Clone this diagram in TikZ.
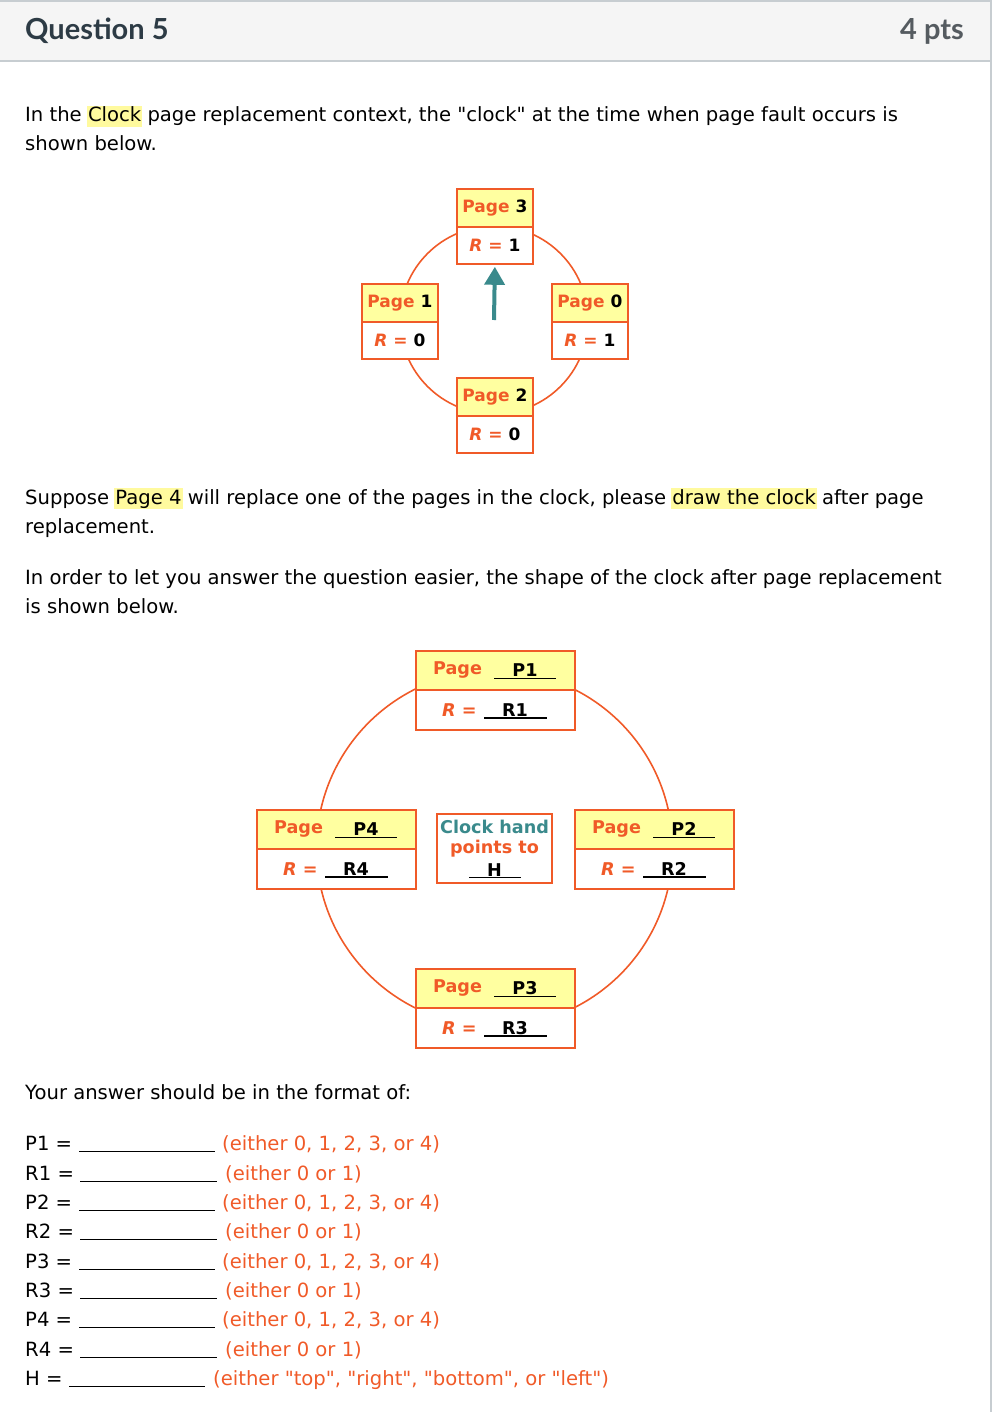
\documentclass[tikz,border=0pt]{standalone}
\usepackage{fontspec}
\setmainfont{DejaVu Sans}[Ligatures=TeXOff]
\newfontfamily\hdrfont{Lato}
\usetikzlibrary{arrows.meta}
\definecolor{org}{HTML}{F05A28}
\definecolor{yel}{HTML}{FFFFA0}
\definecolor{hlc}{HTML}{FFFA9E}
\definecolor{tealc}{HTML}{3A8A8C}
\definecolor{hdrbg}{HTML}{F5F5F5}
\definecolor{hdrln}{HTML}{C7CDD1}
\definecolor{hdrtx}{HTML}{2D3B45}
\definecolor{ptstx}{HTML}{555B60}
\newcommand\hlw[1]{\kern-1pt\relax{\fboxsep=1pt\colorbox{hlc}{\vphantom{Clg}#1}}\kern-1pt\relax}
\tikzset{
  body/.style={anchor=base west, inner sep=0pt, font=\fontsize{19.6}{23}\selectfont},
  note/.style={body, text=org},
  smtop/.style={draw=org, fill=yel, line width=1.8pt, minimum width=76pt, minimum height=38pt, inner sep=0pt, anchor=north west, font=\fontsize{17}{20}\selectfont\bfseries},
  smbot/.style={smtop, fill=white, minimum height=37pt},
  bgtop/.style={draw=org, fill=yel, line width=1.8pt, minimum width=159pt, minimum height=39pt, inner sep=0pt, anchor=north west},
  bgbot/.style={bgtop, fill=white, minimum height=40pt},
  lbl/.style={inner sep=0pt, text=org, font=\fontsize{17.6}{20}\selectfont\bfseries},
  val/.style={inner sep=0pt, text=black, font=\fontsize{17.6}{20}\selectfont\bfseries},
  uline/.style={line width=1.2pt, black},
  ring/.style={draw=org, line width=1.6pt},
  blank/.style={line width=1pt, black}
}
\begin{document}
\begin{tikzpicture}[x=1pt,y=-1pt]
\useasboundingbox (0,0) rectangle (994,1412);
% header
\fill[hdrbg] (0,1) rectangle (991,61);
\draw[hdrln, line width=1.2pt] (0,1) -- (991,1);
\draw[hdrln, line width=1.2pt] (0,61) -- (991,61);
\draw[hdrln, line width=1.2pt] (991,0) -- (991,1412);
\node[anchor=base west, inner sep=0pt, text=hdrtx, font=\hdrfont\fontsize{29}{32}\selectfont\bfseries] (qt) at (25,40) {Question 5};
\node[anchor=base east, inner sep=0pt, text=ptstx, font=\hdrfont\fontsize{29}{32}\selectfont\bfseries] (pts) at (964,40) {4 pts};
% intro text
\node[body] (t1) at (25,122) {In the \hlw{Clock} page replacement context, the "clock" at the time when page fault occurs is};
\node[body] (t2) at (25,151) {shown below.};
% first clock
\coordinate (c1) at (494,320);
\draw[ring] (c1) circle[radius=94pt];
\node[smtop] (a3t) at (456,188) {{\color{org}Page} 3};
\node[smbot] (a3b) at (456,226) {{\color{org}\itshape R} {\color{org}=} 1};
\node[smtop] (a1t) at (361,283) {{\color{org}Page} 1};
\node[smbot] (a1b) at (361,321) {{\color{org}\itshape R} {\color{org}=} 0};
\node[smtop] (a0t) at (551,283) {{\color{org}Page} 0};
\node[smbot] (a0b) at (551,321) {{\color{org}\itshape R} {\color{org}=} 1};
\node[smtop] (a2t) at (456,377) {{\color{org}Page} 2};
\node[smbot] (a2b) at (456,415) {{\color{org}\itshape R} {\color{org}=} 0};
\draw[tealc, line width=4pt, -{Triangle[width=20pt,length=18pt]}, shorten >=2pt] (c1) -- (a3b.south);
% second paragraph
\node[body] (t3) at (25,504) {Suppose \hlw{Page 4} will replace one of the pages in the clock, please \hlw{draw the clock} after page};
\node[body] (t4) at (25,533) {replacement.};
\node[body] (t5) at (25,584) {In order to let you answer the question easier, the shape of the clock after page replacement};
\node[body] (t6) at (25,613) {is shown below.};
% second clock
\coordinate (c2) at (494.5,848.5);
\draw[ring] (c2) circle[radius=178pt];
\newcommand\bigbox[3]{%
  \node[bgtop] (#1t) at (#2,#3) {};
  \node[bgbot] (#1b) at (#2,#3+39) {};
  \node[lbl] (#1pl) at (#2+42.5,#3+20) {Page};
  \node[val] (#1pv) at (#2+110,#3+20) {P#1};
  \draw[uline] (#2+79,#3+28.5) -- (#2+141,#3+28.5);
  \node[lbl, anchor=west] (#1rl) at (#2+27,#3+60) {\itshape R\upshape\ =};
  \node[val] (#1rv) at (#2+100,#3+60) {R#1};
  \draw[uline] (#2+69,#3+68) -- (#2+132,#3+68);
}
\bigbox{1}{415}{650}
\bigbox{4}{256}{809}
\bigbox{2}{574}{809}
\bigbox{3}{415}{968}
\node[draw=org, line width=1.8pt, fill=white, minimum width=115pt, minimum height=69pt, inner sep=0pt] (hand) at (494.5,848.5) {};
\node[inner sep=0pt, text=tealc, font=\fontsize{17.6}{20}\selectfont\bfseries] (h1) at (494.5,827) {Clock hand};
\node[inner sep=0pt, text=org, font=\fontsize{17.6}{20}\selectfont\bfseries] (h2) at (494.5,849) {points to};
\node[inner sep=0pt, text=black, font=\fontsize{17.6}{20}\selectfont\bfseries] (h3) at (494.5,870) {H};
\draw[uline] (469,877.5) -- (521,877.5);
% answer format
\node[body] (t7) at (25,1099) {Your answer should be in the format of:};
\node[body] (q1) at (25,1150) {P1 =};
\draw[blank] (79,1151) -- (215,1151);
\node[note] (n1) at (222,1150) {(either 0, 1, 2, 3, or 4)};
\node[body] (q2) at (25,1180) {R1 =};
\draw[blank] (80,1181) -- (217,1181);
\node[note] (n2) at (225,1180) {(either 0 or 1)};
\node[body] (q3) at (25,1209) {P2 =};
\draw[blank] (79,1210) -- (215,1210);
\node[note] (n3) at (222,1209) {(either 0, 1, 2, 3, or 4)};
\node[body] (q4) at (25,1238) {R2 =};
\draw[blank] (80,1239) -- (217,1239);
\node[note] (n4) at (225,1238) {(either 0 or 1)};
\node[body] (q5) at (25,1268) {P3 =};
\draw[blank] (79,1269) -- (215,1269);
\node[note] (n5) at (222,1268) {(either 0, 1, 2, 3, or 4)};
\node[body] (q6) at (25,1297) {R3 =};
\draw[blank] (80,1298) -- (217,1298);
\node[note] (n6) at (225,1297) {(either 0 or 1)};
\node[body] (q7) at (25,1326) {P4 =};
\draw[blank] (79,1327) -- (215,1327);
\node[note] (n7) at (222,1326) {(either 0, 1, 2, 3, or 4)};
\node[body] (q8) at (25,1356) {R4 =};
\draw[blank] (80,1357) -- (217,1357);
\node[note] (n8) at (225,1356) {(either 0 or 1)};
\node[body] (q9) at (25,1385) {H =};
\draw[blank] (69,1386) -- (205,1386);
\node[note] (n9) at (213,1385) {(either "top", "right", "bottom", or "left")};
\end{tikzpicture}
\end{document}
